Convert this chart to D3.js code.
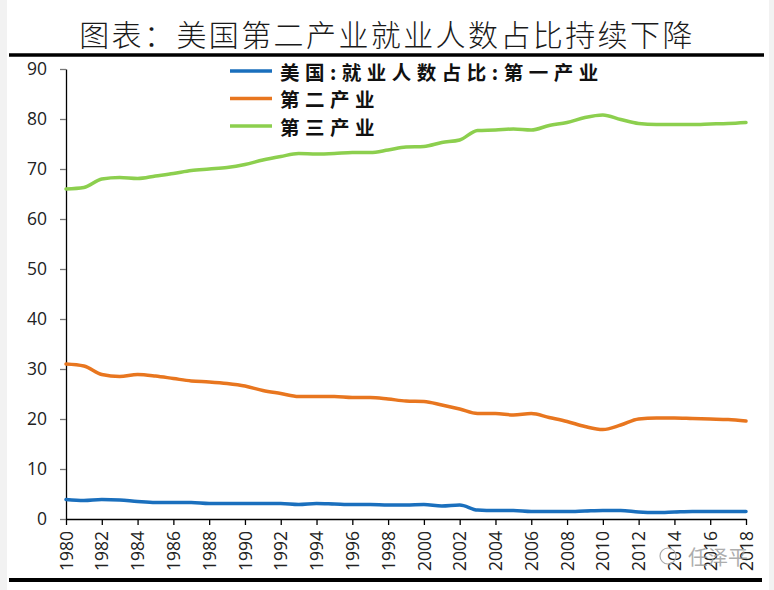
<!DOCTYPE html>
<html>
<head>
<meta charset="utf-8">
<script src="https://cdn.jsdelivr.net/npm/d3@7"></script>
<style>
  body { margin: 0; background: #f2f2f2; }
  svg { display: block; }
  .axis text { font-family: "Open Sans", "Noto Sans", sans-serif; font-size: 17.5px; fill: #222; }
</style>
</head>
<body>
<svg class="figure" width="774" height="590"></svg>
<script>
// years and shares of employment (%)
var years = d3.range(1980, 2019);
var primary = [3.9, 3.7, 3.9, 3.8, 3.5, 3.3, 3.3, 3.3, 3.1, 3.1,
  3.1, 3.1, 3.1, 2.9, 3.1, 3.0, 2.9, 2.9, 2.8, 2.8,
  2.9, 2.6, 2.8, 1.8, 1.7, 1.7, 1.5, 1.5, 1.5, 1.6,
  1.7, 1.7, 1.4, 1.3, 1.4, 1.5, 1.5, 1.5, 1.5];
var secondary = [31.0, 30.6, 28.9, 28.5, 28.9, 28.6, 28.1, 27.6, 27.4, 27.1,
  26.6, 25.7, 25.1, 24.5, 24.5, 24.5, 24.3, 24.3, 24.0, 23.6,
  23.5, 22.8, 22.0, 21.1, 21.1, 20.8, 21.1, 20.3, 19.5, 18.5,
  17.9, 18.8, 20.0, 20.2, 20.2, 20.1, 20.0, 19.9, 19.6];
var tertiary = [66.0, 66.3, 68.0, 68.3, 68.1, 68.6, 69.1, 69.7, 70.0, 70.3,
  70.9, 71.8, 72.5, 73.1, 73.0, 73.1, 73.3, 73.3, 73.8, 74.4,
  74.5, 75.3, 75.8, 77.7, 77.8, 78.0, 77.8, 78.7, 79.3, 80.3,
  80.8, 79.9, 79.1, 78.9, 78.9, 78.9, 79.0, 79.1, 79.3];
var seriesNames = ["美国:就业人数占比:第一产业", "第二产业", "第三产业"];
var seriesColors = ["#1a6fbd", "#e8761f", "#8ccf4e"];
var yTicks = [0, 10, 20, 30, 40, 50, 60, 70, 80, 90];
var xTicks = d3.range(1980, 2019, 2);

var svg = d3.select("svg.figure");

// page frame: grey margins, white sheet, black rules
svg.append("rect").attr("x", 7).attr("y", 0).attr("width", 762).attr("height", 590).attr("fill", "#fff");
svg.append("line").attr("x1", 9).attr("x2", 764).attr("y1", 55).attr("y2", 55)
  .attr("stroke", "#000").attr("stroke-width", 3.5);
svg.append("line").attr("x1", 9).attr("x2", 762).attr("y1", 580).attr("y2", 580)
  .attr("stroke", "#000").attr("stroke-width", 4);

svg.append("text")
  .attr("x", 387).attr("y", 33)
  .attr("text-anchor", "middle").attr("dominant-baseline", "central")
  .attr("font-family", "'Noto Sans CJK SC', sans-serif")
  .attr("font-weight", 300)
  .attr("font-size", 30).attr("fill", "#1a1a1a").attr("letter-spacing", 2.4)
  .text("图表：美国第二产业就业人数占比持续下降");

var x = d3.scaleLinear().domain([1980, 2018]).range([66, 746]);
var y = d3.scaleLinear().domain([0, 90]).range([519, 69]);

var yAxis = svg.append("g").attr("class", "axis")
  .attr("transform", "translate(66,0)")
  .call(d3.axisLeft(y).tickValues(yTicks).tickSize(6).tickSizeOuter(0).tickPadding(13));
yAxis.select(".domain").attr("stroke", "#000").attr("stroke-width", 1.3);
yAxis.selectAll(".tick line").attr("stroke", "#777").attr("stroke-width", 1.3);

var xAxis = svg.append("g").attr("class", "axis")
  .attr("transform", "translate(0,519)")
  .call(d3.axisBottom(x).tickValues(xTicks).tickFormat(d3.format("d")).tickSize(6).tickSizeOuter(0));
xAxis.select(".domain").attr("stroke", "#000").attr("stroke-width", 1.3);
xAxis.selectAll(".tick line").attr("stroke", "#000").attr("stroke-width", 1.3);
xAxis.selectAll(".tick text")
  .attr("transform", "rotate(-90)")
  .attr("x", -12).attr("y", 0).attr("dy", "0.35em")
  .attr("text-anchor", "end");

var line = d3.line()
  .x(function(d, i) { return x(years[i]); })
  .y(function(d) { return y(d); })
  .curve(d3.curveMonotoneX);

[primary, secondary, tertiary].forEach(function(vals, k) {
  svg.append("path")
    .attr("d", line(vals))
    .attr("fill", "none")
    .attr("stroke", seriesColors[k])
    .attr("stroke-width", 3.5)
    .attr("stroke-linecap", "round");
});

// legend
var legend = svg.selectAll("g.legend")
  .data(seriesNames)
  .enter()
  .append("g")
  .attr("class", "legend")
  .attr("transform", function(d, i) { return "translate(230," + (71 + i * 27.5) + ")"; });

legend.append("line")
  .attr("x1", 0).attr("x2", 42)
  .attr("stroke", function(d, i) { return seriesColors[i]; })
  .attr("stroke-width", 3.5);

legend.append("text")
  .attr("x", 50).attr("y", 0)
  .attr("dominant-baseline", "central")
  .attr("font-family", "'Noto Sans CJK SC', sans-serif")
  .attr("font-weight", "bold")
  .attr("font-size", 19.5).attr("letter-spacing", 5.5)
  .attr("fill", "#111")
  .text(function(d) { return d; });

// watermark
svg.append("circle").attr("cx", 668).attr("cy", 556).attr("r", 8)
  .attr("fill", "none").attr("stroke", "#aaa").attr("stroke-width", 1.2);
svg.append("text")
  .attr("x", 688).attr("y", 556)
  .attr("dominant-baseline", "central")
  .attr("font-family", "'Noto Sans CJK SC', sans-serif")
  .attr("font-size", 20).attr("fill", "#999").attr("opacity", 0.8)
  .text("任泽平");
</script>
</body>
</html>
